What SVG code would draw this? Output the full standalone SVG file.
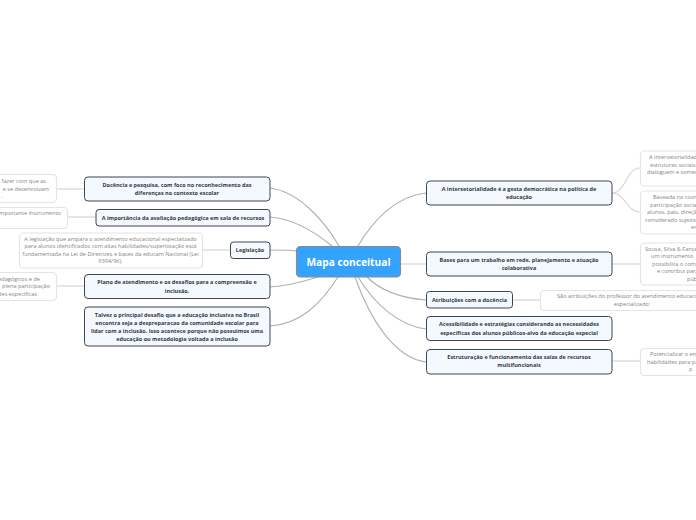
<svg xmlns="http://www.w3.org/2000/svg" width="696" height="520" viewBox="0 0 696 520">
<style>
text{font-family:"Open Sans","Noto Sans","Liberation Sans",sans-serif}
.n rect{fill:#f4f9ff;stroke:#3f4650;stroke-width:1}
.n text{font-size:5.5px;font-weight:700;fill:#333a44;text-anchor:middle}
.l rect{fill:#fff;stroke:#e4e4e4;stroke-width:1.2}
.l text{font-size:5.6px;fill:#858585;text-anchor:middle}
.e{text-anchor:end!important}
.s{text-anchor:start!important}
#c path{fill:none;stroke:#b0b0b0;stroke-width:1.1}
#c path.t{stroke:#d6d6d6;stroke-width:1.2}
</style>
<rect width="696" height="520" fill="#fff"/>
<g id="c">
<path d="M339 246C325 222 300 192 270 188"/>
<path d="M332 246C315 232 295 219 270 217"/>
<path d="M297 251C288 250 280 250 270 250"/>
<path d="M318 277C305 281 290 286 270 287"/>
<path d="M338 277C320 305 300 324 270 326"/>
<path d="M358 246C372 222 395 196 426 193"/>
<path class="t" d="M400 264L426 264"/>
<path d="M367 277C380 290 400 298 426 300"/>
<path d="M358 277C375 305 400 326 426 329"/>
<path d="M355 277C370 320 395 358 426 362"/>
<path class="t" d="M84 189L57 189"/>
<path class="t" d="M96 217L68 217"/>
<path class="t" d="M230 250L202 250"/>
<path class="t" d="M84 286L57 286"/>
<path class="t" d="M612 193C626 193 626 168 640 168"/>
<path class="t" d="M612 193C626 193 626 212 640 212"/>
<path class="t" d="M612 264L640 264"/>
<path class="t" d="M512 300L540 300"/>
<path class="t" d="M612 361L640 361"/>
</g>
<g id="center"><rect x="296.500" y="246.500" width="104" height="30.500" rx="4" fill="#33a3ff" stroke="#8a8a8a" stroke-width="1.200"/><text x="348.500" y="265.500" text-anchor="middle" font-size="10.200" font-weight="700" fill="#fff">Mapa conceitual</text></g>
<g id="n1" class="n"><rect x="84.500" y="177" width="185.500" height="24" rx="3.500"/><text x="177" y="186.500">Docência e pesquisa, com foco no reconhecimento das</text><text x="177" y="195">diferenças no contexto escolar</text></g>
<g id="n2" class="n"><rect x="96" y="209.500" width="174" height="16.500" rx="3"/><text x="183" y="219.500">A importância da avaliação pedagógica em sala de recursos</text></g>
<g id="n3" class="n"><rect x="230.500" y="242" width="39.500" height="16.500" rx="3"/><text x="250" y="252">Legislação</text></g>
<g id="n4" class="n"><rect x="84.500" y="274.500" width="185.500" height="24" rx="3.500"/><text x="177" y="284">Plano de atendimento e os desafios para a compreensão e</text><text x="177" y="292.500">inclusão.</text></g>
<g id="n5" class="n"><rect x="84.500" y="307" width="185.500" height="39" rx="3.500"/><text x="177" y="317">Talvez o principal desafio que a educação inclusiva no Brasil</text><text x="177" y="325">encontra seja a despreparacao da comunidade escolar para</text><text x="177" y="332.500">lidar com a inclusão. Isso acontece porque não possuimos uma</text><text x="177" y="340.500">educação ou metodologia voltada a inclusão</text></g>
<g id="n6" class="n"><rect x="426.500" y="181" width="185.500" height="24" rx="3.500"/><text x="519" y="190.500">A intersetorialidade é a gesta democrática na política de</text><text x="519" y="199">educação</text></g>
<g id="n7" class="n"><rect x="426.500" y="252" width="185.500" height="24" rx="3.500"/><text x="519" y="261.500">Bases para um trabalho em rede, planejamento e atuação</text><text x="519" y="270">colaborativa</text></g>
<g id="n8" class="n"><rect x="426.500" y="291.500" width="86" height="16.500" rx="3"/><text x="469.500" y="302">Atribuições com a docência</text></g>
<g id="n9" class="n"><rect x="426.500" y="316.500" width="185.500" height="24" rx="3.500"/><text x="519" y="326">Acessibilidade e estratégias considerando as necessidades</text><text x="519" y="334.500">específicas dos alunos públicos-alvo da educação especial</text></g>
<g id="n10" class="n"><rect x="426.500" y="349.500" width="185.500" height="24.500" rx="3.500"/><text x="519" y="359">Estruturação e funcionamento das salas de recursos</text><text x="519" y="367">multifuncionais</text></g>
<g id="l1" class="l"><rect x="-40" y="174.500" width="96.500" height="28" rx="4"/><text class="e" x="46" y="183">fazer com que as</text><text class="e" x="49" y="191">e se desenvolvam</text><text class="e" x="3" y="198">.</text></g>
<g id="l2" class="l"><rect x="-40" y="207.500" width="107.500" height="21" rx="4"/><text class="e" x="61" y="215">importante instrumento</text></g>
<g id="l3" class="l"><rect x="19.500" y="233" width="183" height="35" rx="4"/><text x="110.500" y="241">A legislação que ampara o atendimento educacional especializado</text><text x="110.500" y="248">para alunos identificados com altas habilidades/superlotação está</text><text x="110.500" y="256">fundamentada na Lei de Diretrizes e bases da educam Nacional (Lei</text><text x="110.500" y="263">9394/96).</text></g>
<g id="l4" class="l"><rect x="-40" y="272.500" width="96.500" height="28" rx="4"/><text class="e" x="40" y="281">edagógicos e de</text><text class="e" x="50" y="288">plena participação</text><text class="e" x="37" y="296">des específicas</text></g>
<g id="l5" class="l"><rect x="640.500" y="151" width="80" height="35" rx="4"/><text class="s" x="649" y="159">A intersetorialidade</text><text class="s" x="650" y="167">estruturas sociais</text><text class="s" x="647" y="174">dialoguem e somem</text></g>
<g id="l6" class="l"><rect x="640.500" y="191" width="80" height="43" rx="4"/><text class="s" x="653" y="199">Baseada na coordenação</text><text class="s" x="650" y="207">participação social</text><text class="s" x="647" y="214">alunos, pais, direção</text><text class="s" x="645" y="222">considerado sujeito</text><text class="s" x="691" y="229">em</text></g>
<g id="l7" class="l"><rect x="640.500" y="243" width="80" height="42" rx="4"/><text class="s" x="645" y="251">Sousa, Silva &amp; Fantacini</text><text class="s" x="651" y="258">um instrumento</text><text class="s" x="652" y="266">possibilita o comp</text><text class="s" x="657" y="273">e contribui para</text><text class="s" x="687" y="281">púb</text></g>
<g id="l8" class="l"><rect x="540.500" y="290.500" width="180" height="20" rx="4"/><text class="s" x="557" y="298">São atribuições do professor do atendimento educacional</text><text x="632" y="306">especializado:</text></g>
<g id="l9" class="l"><rect x="640.500" y="348.500" width="80" height="27" rx="4"/><text class="s" x="650" y="356">Potencializar o en</text><text class="s" x="647" y="364">habilidades para pa</text><text class="s" x="689" y="371">p</text></g>
</svg>
